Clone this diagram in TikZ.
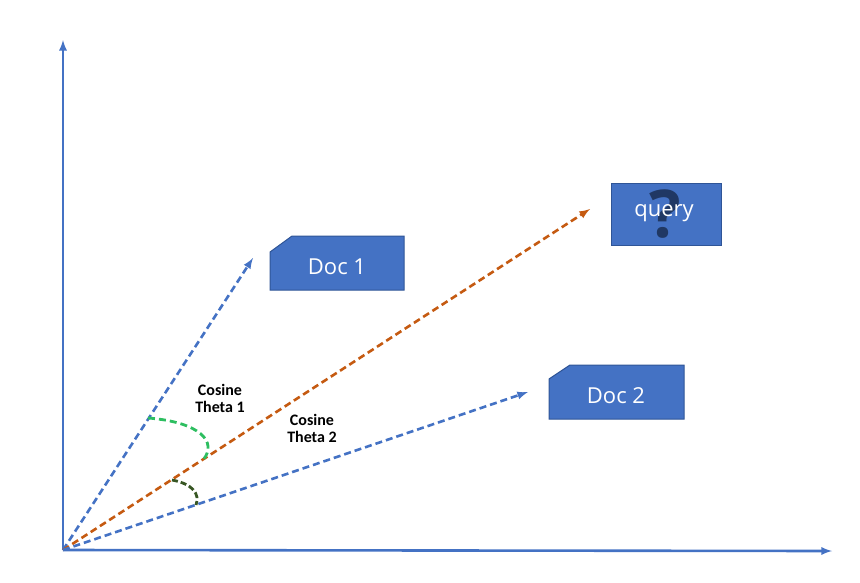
\documentclass[tikz,border=0pt]{standalone}
\usepackage{fontspec}
\setmainfont{Open Sans}
\newfontfamily\lblfont{Carlito}
\begin{document}
\begin{tikzpicture}[x=1pt,y=-1pt,
  axis/.style={draw=axisblue,line width=2.6pt,-latex},
  vec/.style={line width=2.6pt,dash pattern=on 7pt off 4pt,-latex},
  box/.style={fill=boxblue,draw=boxedge,line width=1pt},
  boxtxt/.style={text=white,font=\fontsize{22}{26}\selectfont},
  lbl/.style={font=\lblfont\bfseries\fontsize{16}{17}\selectfont,align=center}]
\definecolor{axisblue}{HTML}{4472C4}
\definecolor{boxblue}{HTML}{4472C4}
\definecolor{boxedge}{HTML}{2F5597}
\definecolor{qorange}{HTML}{C55A11}
\definecolor{lgreen}{HTML}{2DBE60}
\definecolor{dgreen}{HTML}{375623}
\definecolor{qnavy}{HTML}{203864}
\useasboundingbox (0,0) rectangle (860,582);
\coordinate (O) at (63,550);
\coordinate (ytop) at (63,40);
\coordinate (xend) at (832,551);
\coordinate (d1) at (253,258);
\coordinate (q) at (590,209);
\coordinate (d2) at (528,392);
\draw[axis] (O) -- (ytop);
\draw[axis] (O) -- (xend);
\draw[vec,draw=axisblue] (O) -- (d1);
\draw[vec,draw=qorange] (O) -- (q);
\draw[vec,draw=axisblue] (O) -- (d2);
\draw[box] (270,252) -- (292,236) -- (404,236) -- (404,290) -- (270,290) -- cycle;
\node[boxtxt] (doc1) at (337,267) {Doc 1};
\draw[box] (611,183) rectangle (721,245);
\node[text=qnavy,font=\bfseries\fontsize{66}{66}\selectfont] (qm) at (665,214) {?};
\node[boxtxt] (query) at (664,213) {query};
\draw[box] (549,379) -- (570,365) -- (684,365) -- (684,419) -- (549,419) -- cycle;
\node[boxtxt] (doc2) at (616,396) {Doc 2};
\draw[lgreen,line width=2.8pt,dash pattern=on 7pt off 4pt] (148,418) .. controls (200,422) and (218,442) .. (203,460);
\draw[dgreen,line width=2.8pt,dash pattern=on 6pt off 3pt] (172,480) .. controls (193,484) and (200,494) .. (196,505);
\node[lbl] (t1) at (220,398) {Cosine\\Theta 1};
\node[lbl] (t2) at (312,428) {Cosine\\Theta 2};
\end{tikzpicture}
\end{document}
